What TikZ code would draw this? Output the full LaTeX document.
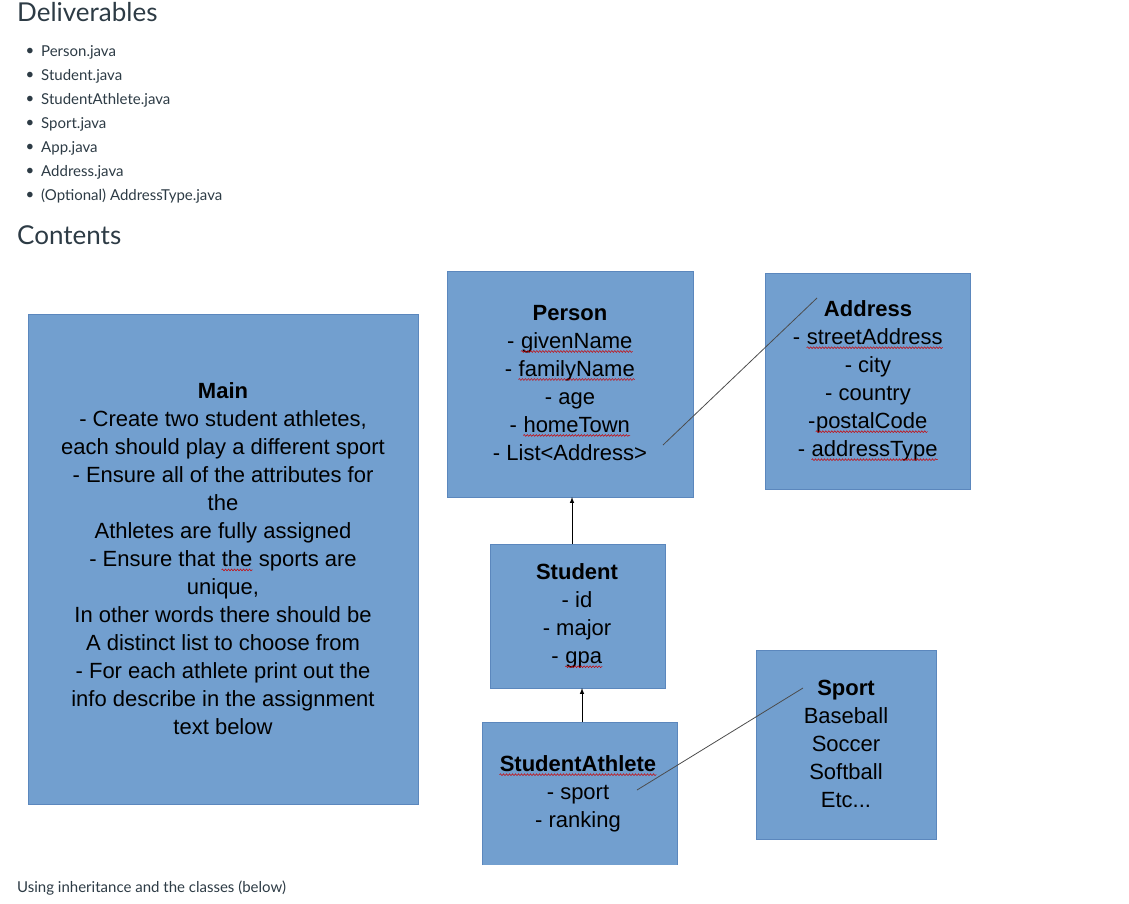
\documentclass[tikz,border=0pt]{standalone}
\usepackage{fontspec}
\setmainfont{Liberation Sans}
\newfontfamily\lato{Lato}
\usetikzlibrary{decorations.pathmorphing}
\definecolor{boxblue}{HTML}{729FCF}
\definecolor{boxedge}{HTML}{5B87BD}
\definecolor{inktext}{HTML}{2D3B45}
\tikzset{
  cls/.style={draw=boxedge, fill=boxblue, line width=1pt, inner sep=0pt},
  txt/.style={align=center, font=\fontsize{22}{28}\selectfont, inner sep=0pt},
  page/.style={anchor=west, inner sep=0pt, text=inktext},
  item/.style={page, font=\lato\fontsize{15}{18}\selectfont}
}
\newcommand{\sq}[1]{\tikz[baseline=(w.base)]{\node[inner sep=0pt](w){#1};%
  \draw[red!80!black, line width=.5pt, decorate, decoration={snake, amplitude=.9pt, segment length=3pt}]
  ([yshift=-3pt]w.base west) -- ([yshift=-3pt]w.base east);}}
\begin{document}
\begin{tikzpicture}[x=1pt, y=-1pt]
\useasboundingbox (0,0) rectangle (1129,903);
% page text
\node[page, font=\lato\fontsize{26}{30}\selectfont] (deliv) at (17,12) {Deliverables};
\foreach \f [count=\i] in {Person.java, Student.java, StudentAthlete.java, Sport.java, App.java, Address.java, (Optional) AddressType.java}{
  \node[item] (f\i) at (41,28+24*\i) {\f};
  \node[item, anchor=center] (b\i) at (30,28+24*\i) {\textbullet};
}
\node[page, font=\lato\fontsize{26}{30}\selectfont] (cont) at (17,235) {Contents};
\node[item] (using) at (17,888) {Using inheritance and the classes (below)};
% class boxes
\fill[cls] (28,314) rectangle (418,804);
\fill[cls] (447,271) rectangle (693,497);
\fill[cls] (765,273) rectangle (970,489);
\fill[cls] (490,544) rectangle (665,688);
\fill[cls] (756,650) rectangle (936,839);
\fill[boxblue] (482,722) rectangle (677,865);
\draw[boxedge, line width=1pt] (482,865) |- (677,722) -- (677,865);
% texts
\node[txt] (main) at (223,559) {\textbf{Main}\\- Create two student athletes,\\each should play a different sport\\- Ensure all of the attributes for\\the\\Athletes are fully assigned\\- Ensure that \sq{the} sports are\\unique,\\In other words there should be\\A distinct list to choose from\\- For each athlete print out the\\info describe in the assignment\\text below};
\node[txt] (person) at (570,383) {\textbf{Person}\\- \sq{givenName}\\- \sq{familyName}\\- age\\- \sq{homeTown}\\- List<Address>};
\node[txt] (address) at (868,381) {\textbf{Address}\\- \sq{streetAddress}\\- city\\- country\\-\sq{postalCode}\\- \sq{addressType}};
\node[txt] (student) at (577,616) {\textbf{Student}\\- id\\- major\\- \sq{gpa}};
\node[txt] (athlete) at (578,794) {\sq{\textbf{StudentAthlete}}\\- sport\\- ranking};
\node[txt] (sport) at (846,744) {\textbf{Sport}\\Baseball\\Soccer\\Softball\\Etc...};
% connectors
\coordinate (pbot) at (572,497);
\coordinate (stop) at (572,544);
\coordinate (sbot) at (582,688);
\coordinate (atop) at (582,722);
\draw[-latex, line width=1pt] (stop) -- (pbot);
\draw[-latex, line width=1pt] (atop) -- (sbot);
\coordinate (listend) at (663,445);
\coordinate (addrend) at (817,298);
\coordinate (sportatt) at (637,790);
\coordinate (sportend) at (803,688);
\draw[black!70, line width=.8pt] (listend) -- (addrend);
\draw[black!70, line width=.8pt] (sportatt) -- (sportend);
\end{tikzpicture}
\end{document}
